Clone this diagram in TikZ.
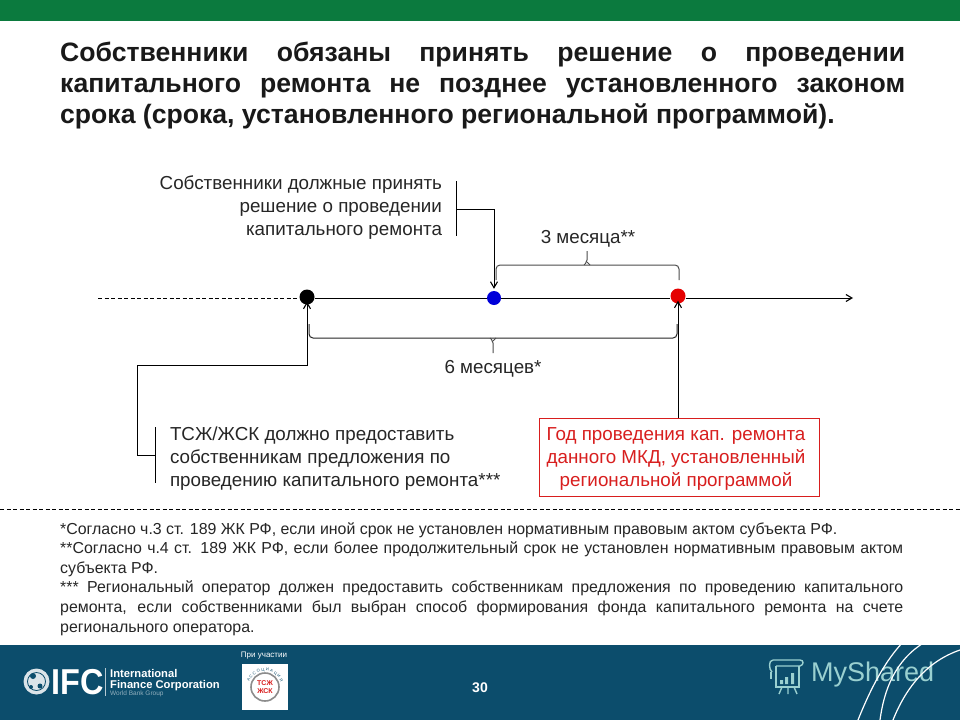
\documentclass[tikz,border=0pt]{standalone}
\usepackage{fontspec}
\setmainfont{Liberation Sans}
\usetikzlibrary{arrows.meta,decorations.text}
\definecolor{topgreen}{HTML}{0B7A3E}
\definecolor{footblue}{HTML}{0C4D6C}
\definecolor{redtxt}{HTML}{D81E1E}
\definecolor{wm}{HTML}{9AD0D0}
\newcommand{\fpx}[2]{\fontsize{#1}{#2}\selectfont}
\newcommand{\jline}[2]{\makebox[#1pt][s]{#2}}
\tikzset{
  x=1pt,y=-1pt,
  txt/.style={inner sep=0pt,outer sep=0pt,font=\fpx{18.8}{23},text=black!85},
  conn/.style={draw=black,line width=1pt},
  arr/.style={conn,-{Straight Barb[length=6pt,width=7pt,line width=1.1pt]}},
  brace/.style={draw=black!70,line width=1pt,rounded corners=4pt},
  dot/.style={circle,inner sep=0pt,minimum size=15pt,draw=none},
  note/.style={inner sep=0pt,anchor=north west,font=\fpx{15.9}{19.6},align=left,text=black!85},
}
\begin{document}
\begin{tikzpicture}
\useasboundingbox (0,0) rectangle (960,720);
\fill[white] (0,0) rectangle (960,720);
\fill[topgreen] (0,0) rectangle (960,21);
\fill[footblue] (0,645) rectangle (960,720);

\node[inner sep=0pt,anchor=north west,font=\bfseries\fpx{26.6}{31},align=left,text=black!90] (title) at (60,41.5)
 {\jline{845}{Собственники обязаны принять решение о проведении}\\
  \jline{845}{капитального ремонта не позднее установленного законом}\\
  срока (срока, установленного региональной программой).};

% timeline
\node[dot,fill=black] (black) at (307,297) {};
\node[dot,fill=blue!85!black,minimum size=14pt] (bluedot) at (494,298) {};
\node[dot,fill=red!90!black] (reddot) at (678,296) {};
\coordinate (dashstart) at (98,298);
\coordinate (axisend) at (853,298);
\draw[conn,dash pattern=on 4pt off 2.5pt,line width=.8pt] (dashstart) -- (black.west |- axisend);
\draw[conn,line width=.9pt] (black.east |- axisend) -- (bluedot.west |- axisend);
\draw[conn,line width=.9pt] (bluedot.east |- axisend) -- (reddot.west |- axisend);
\draw[arr,line width=.9pt] (reddot.east |- axisend) -- (axisend);

% owners label
\node[txt,anchor=base east] (o1) at (442,189) {Собственники должные принять};
\node[txt,anchor=base east] (o2) at (442,212) {решение о проведении};
\node[txt,anchor=base east] (o3) at (442,235) {капитального ремонта};
\coordinate (obt) at (456,181);
\coordinate (obb) at (456,236);
\coordinate (obm) at (456,209);
\draw[conn] (obt) -- (obb);
\draw[arr] (obm) -| ([yshift=2pt]bluedot.north);

% 3 months brace
\coordinate (b3l) at (496,280);
\coordinate (b3r) at (679,280);
\coordinate (b3tl) at (496,265);
\coordinate (b3tr) at (679,265);
\coordinate (b3m) at (587,265);
\coordinate (b3t) at (587,251);
\draw[brace] (b3l) -- (b3tl) -- (b3tr) -- (b3r);
\draw[brace,rounded corners=2pt] (584,265) -- (587,262) -- (b3t);
\draw[brace,rounded corners=2pt] (590,265) -- (587,262);
\node[txt,anchor=base] (m3) at (588,243) {3 месяца**};

% 6 months brace
\coordinate (b6l) at (309,324);
\coordinate (b6r) at (677,324);
\coordinate (b6bl) at (309,338);
\coordinate (b6br) at (677,338);
\coordinate (b6t) at (493,353);
\draw[brace,draw=black!85] (b6l) -- (b6bl) -- (b6br) -- (b6r);
\draw[brace,draw=black!70,rounded corners=2pt] (490,338) -- (493,341) -- (b6t);
\draw[brace,draw=black!70,rounded corners=2pt] (496,338) -- (493,341);
\node[txt,anchor=base] (m6) at (493,373) {6 месяцев*};

% lower left label
\node[txt,anchor=base west] (t1) at (170,440) {ТСЖ/ЖСК должно предоставить};
\node[txt,anchor=base west] (t2) at (170,463) {собственникам предложения по};
\node[txt,anchor=base west] (t3) at (170,486) {проведению капитального ремонта***};
\coordinate (tbt) at (155,427);
\coordinate (tbb) at (155,483);
\coordinate (tbm) at (155,455);
\coordinate (bend1) at (137,455);
\coordinate (bend2) at (137,365);
\coordinate (bend3) at (307,365);
\draw[conn] (tbt) -- (tbb);
\draw[arr] (tbm) -- (bend1) -- (bend2) -- (bend3) -- ([yshift=3pt]black.south);

% red box
\node[draw=redtxt,line width=1pt,fill=white,inner sep=0pt,minimum width=280pt,minimum height=78pt,anchor=north west] (box) at (539,418) {};
\node[txt,text=redtxt,anchor=base] (r1) at (676,440) {Год проведения кап. ремонта};
\node[txt,text=redtxt,anchor=base] (r2) at (676,463) {данного МКД, установленный};
\node[txt,text=redtxt,anchor=base] (r3) at (676,486) {региональной программой};
\coordinate (boxtop) at (678,418);
\draw[arr] (boxtop) -- ([yshift=3pt]reddot.south);

% separator
\coordinate (sepl) at (0,509);
\coordinate (sepr) at (960,509);
\draw[conn,dash pattern=on 4pt off 2.5pt,line width=.8pt] (sepl) -- (sepr);

% notes
\node[note] (notes) at (60,522) {%
*Согласно ч.3 ст. 189 ЖК РФ, если иной срок не установлен нормативным правовым актом субъекта РФ.\\
\jline{843}{**Согласно ч.4 ст. 189 ЖК РФ, если более продолжительный срок не установлен нормативным правовым актом}\\
субъекта РФ.\\
\jline{843}{*** Региональный оператор должен предоставить собственникам предложения по проведению капитального}\\
\jline{843}{ремонта, если собственниками был выбран способ формирования фонда капитального ремонта на счете}\\
регионального оператора.};

% IFC logo
\fill[white!85!footblue] (36.5,681.5) circle (13pt);
\draw[footblue,line width=.8pt] (36.5,681.5) circle (9pt);
\fill[footblue] (33,676) circle (3pt) (40,686) circle (2.5pt) (31,687) circle (2pt);
\node[inner sep=0pt,anchor=west,text=white,font=\bfseries\fpx{36}{38}] (ifc) at (51,682) {\scalebox{.9}[1]{IFC}};
\draw[white!70!footblue,line width=.7pt] (105,668) -- (105,696);
\node[inner sep=0pt,anchor=base west,text=white,font=\bfseries\fpx{11.2}{13}] (ifc1) at (110,677) {International};
\node[inner sep=0pt,anchor=base west,text=white,font=\bfseries\fpx{11.2}{13}] (ifc2) at (110,688) {Finance Corporation};
\node[inner sep=0pt,anchor=base west,text=white!55!footblue,font=\fpx{6.5}{8}] (ifc3) at (110,695.5) {World Bank Group};

% badge
\node[inner sep=0pt,text=white,font=\fpx{8}{9}] (part) at (264,656) {При участии};
\fill[white] (242,664) rectangle (288,710);
\draw[black!45,line width=1.6pt] (265,687) circle (14pt);
\path[postaction={decorate,decoration={text along path,text align={fit to path},text={|\fpx{4}{5}\color{footblue}|АССОЦИАЦИЯ}}}] (249.5,682) arc[start angle=162,end angle=18,radius=16.3pt];
\node[inner sep=0pt,text=redtxt,font=\bfseries\fpx{7}{7.5},align=center] (tsj) at (265,687) {ТСЖ\\ЖСК};

% page number
\node[inner sep=0pt,text=white,font=\bfseries\fpx{14}{16}] (page) at (480,688) {30};

% watermark
\begin{scope}[draw=wm,line width=1.4pt]
\draw (773,660) -- (800,660) (773,660) .. controls (768,660) and (769,670) .. (772,672);
\draw (800,660) .. controls (804,660) and (804,665) .. (800,666) -- (776,666);
\draw (776,666) -- (776,687) -- (799,687) -- (799,666);
\draw (771,672) -- (771,679);
\draw (782,687) -- (779,694) (788,687) -- (788,694) (794,687) -- (797,694);
\end{scope}
\fill[wm] (780,680) rectangle (783,684) (785,677) rectangle (788,684) (791,673) rectangle (794,684);
\node[inner sep=0pt,anchor=west,text=wm,font=\fpx{27}{30}] (ms) at (811,675) {MyShared};
\begin{scope}
\clip (740,640) rectangle (960,720);
\draw[white,line width=1.2pt] (858,720) .. controls (870,690) and (885,660) .. (905,640);
\draw[white,line width=1.2pt] (880,720) .. controls (884,690) and (895,660) .. (925,642);
\draw[white,line width=1.2pt] (893,720) .. controls (905,690) and (925,662) .. (960,650);
\end{scope}
\end{tikzpicture}
\end{document}
